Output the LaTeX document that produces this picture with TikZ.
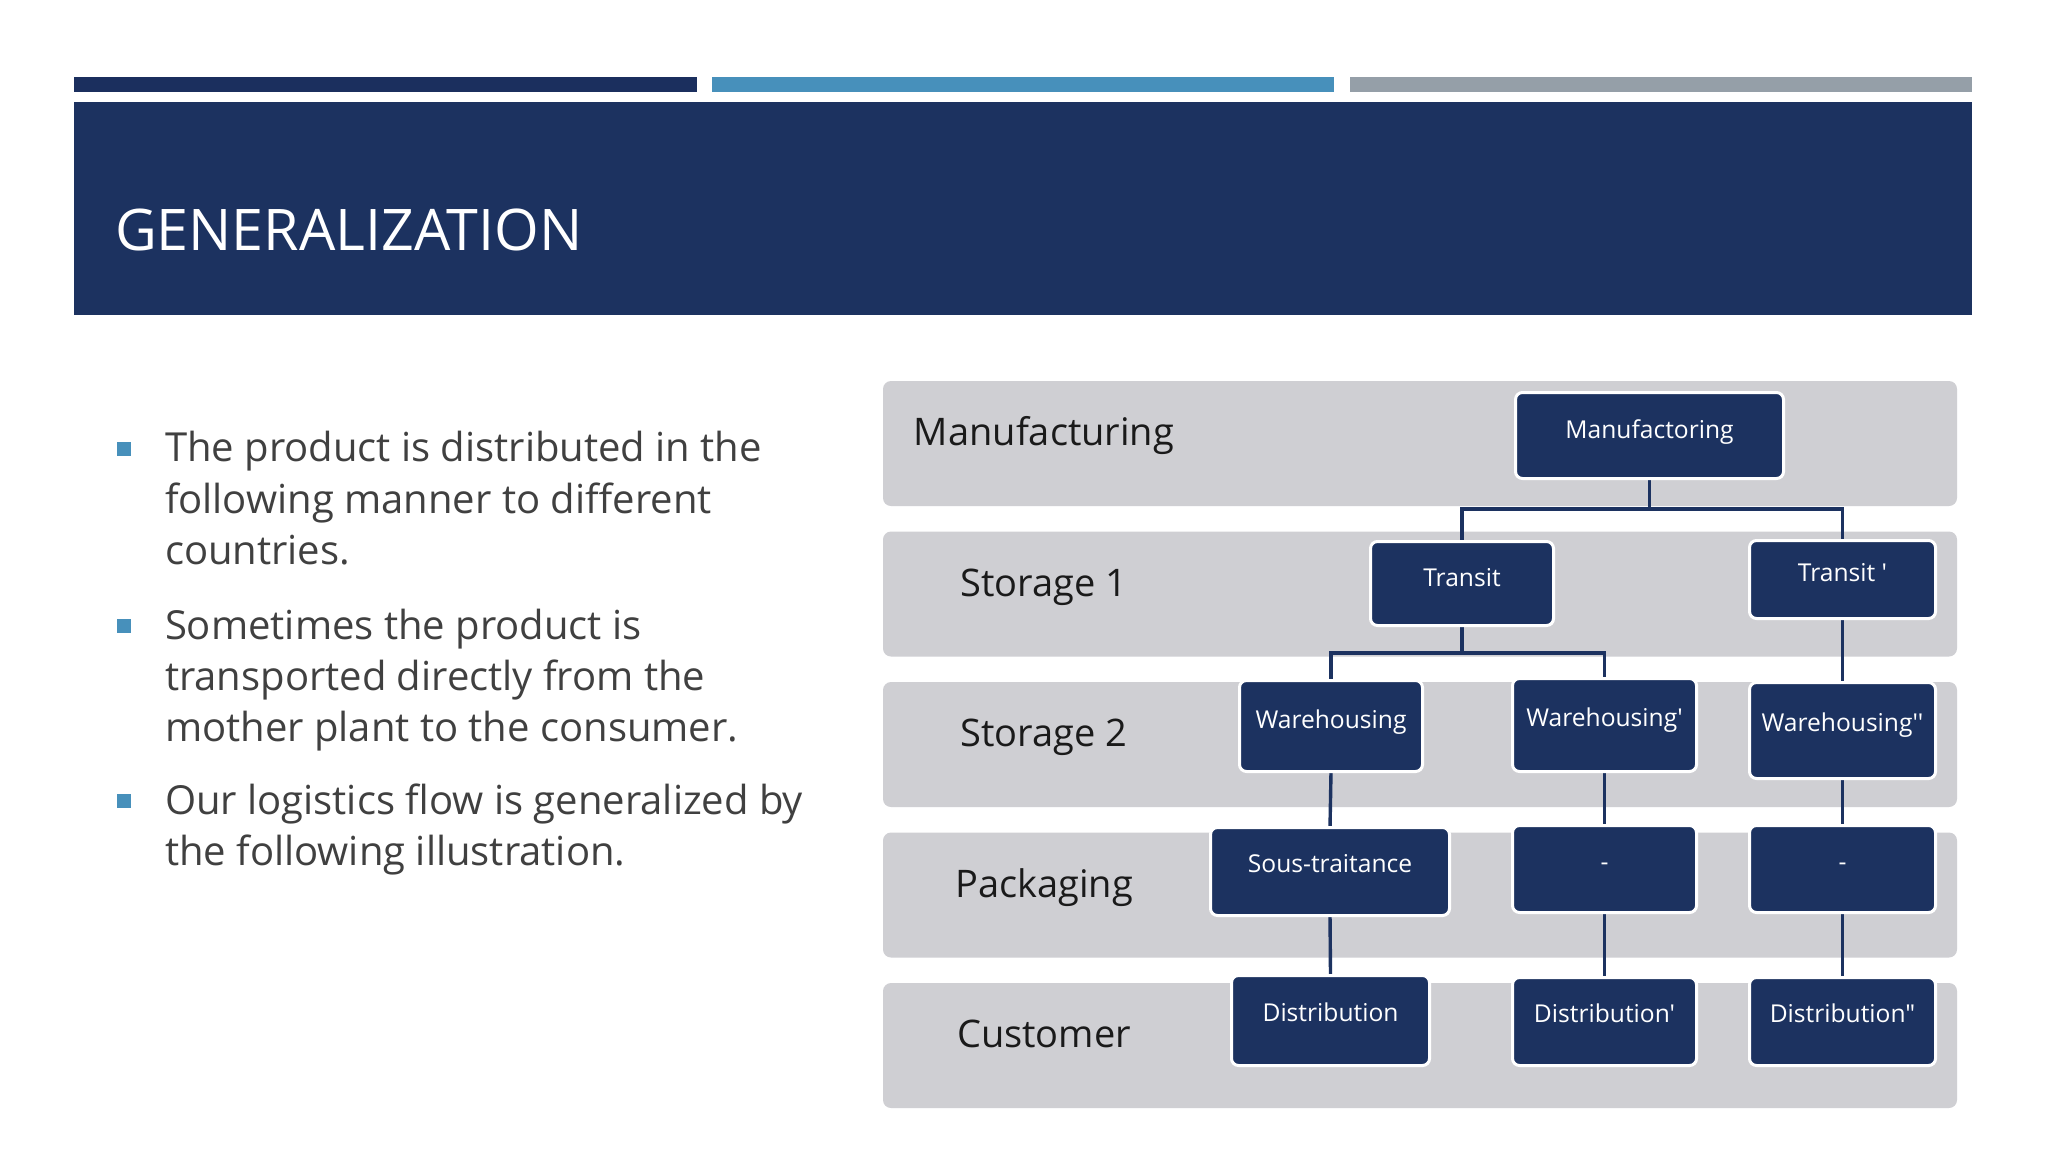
\documentclass[tikz,border=0pt]{standalone}
\usepackage{fontspec}
\setmainfont{Open Sans}[Ligatures=TeXOff]
\usetikzlibrary{calc}
\definecolor{navy}{HTML}{1C3260}
\definecolor{navybar}{HTML}{1B2F5E}
\definecolor{barblue}{HTML}{4790BB}
\definecolor{bargrey}{HTML}{959FA8}
\definecolor{bandgrey}{HTML}{CFCFD3}
\definecolor{bodytext}{HTML}{404040}
\definecolor{labeltext}{HTML}{1A1A1A}
\pgfdeclarelayer{back}
\pgfdeclarelayer{mid}
\pgfsetlayers{back,mid,main}
\tikzset{
  lane/.style={fill=bandgrey, draw=none, rounded corners=4pt, inner sep=0pt, outer sep=0pt},
  stagebox/.style={fill=navy, draw=white, line width=1.5pt, rounded corners=3.5pt, inner sep=0pt, outer sep=0pt},
  stagetext/.style={text=white, font=\fontsize{12.3}{15}\selectfont, anchor=base, inner sep=0pt, outer sep=0pt},
  lanetext/.style={text=labeltext, font=\fontsize{19}{23}\selectfont, anchor=base, inner sep=0pt, outer sep=0pt},
  bodyline/.style={text=bodytext, font=\fontsize{20}{25}\selectfont, anchor=base west, inner sep=0pt, outer sep=0pt},
  bulletsq/.style={fill=barblue, draw=none, minimum size=7pt, inner sep=0pt, outer sep=0pt},
  link/.style={draw=navy, line width=1.7pt},
  titletext/.style={text=white, font=\fontsize{28.7}{34}\selectfont, anchor=base west, inner sep=0pt, outer sep=0pt},
}
% name, x1, y1, x2, y2, text baseline y, text
\newcommand{\mkstage}[7]{%
  \node[stagebox, minimum width={(#4-#2)*0.5pt-1.5pt}, minimum height={(#5-#3)*0.5pt-1.5pt}] (#1) at ({(#2+#4)/2},{(#3+#5)/2}) {};
  \node[stagetext] (#1-t) at ({(#2+#4)/2},#6) {#7};}
% name, top y, label
\newcommand{\mklane}[3]{%
  \begin{pgfonlayer}{back}
  \node[lane, minimum width={(1957-883)*0.5pt}, minimum height={125*0.5pt}] (#1) at ({(883+1957)/2},{#2+62.5}) {};
  \end{pgfonlayer}
  \node[lanetext] (#1-t) at (1044,{#2+64.5}) {#3};}
\begin{document}
\begin{tikzpicture}[x=0.5pt,y=-0.5pt]
\useasboundingbox (0,0) rectangle (2048,1152);
\begin{pgfonlayer}{back}
\fill[white] (0,0) rectangle (2048,1152);
\end{pgfonlayer}

% header bars
\fill[navybar] (74,77) rectangle (697,92);
\fill[barblue] (712,77) rectangle (1334,92);
\fill[bargrey] (1350,77) rectangle (1972,92);
\fill[navy] (74,102) rectangle (1972,315);
\node[titletext] (title) at (115,250) {GENERALIZATION};

% bullets and text
\node[bulletsq] (bu1) at (124,448.5) {};
\node[bodyline] (p1a) at (165,461.7) {The product is distributed in the};
\node[bodyline] (p1b) at (165,513) {following manner to different};
\node[bodyline] (p1c) at (165,564) {countries.};
\node[bulletsq] (bu2) at (124,625.6) {};
\node[bodyline] (p2a) at (165,639) {Sometimes the product is};
\node[bodyline] (p2b) at (165,690) {transported directly from the};
\node[bodyline] (p2c) at (165,741) {mother plant to the consumer.};
\node[bulletsq] (bu3) at (124,801) {};
\node[bodyline] (p3a) at (165,814) {Our logistics flow is generalized by};
\node[bodyline] (p3b) at (165,865) {the following illustration.};

% lanes
\mklane{l1}{381}{Manufacturing}
\mklane{l2}{531.5}{Storage 1}
\mklane{l3}{682}{Storage 2}
\mklane{l4}{832.5}{Packaging}
\mklane{l5}{983}{Customer}

% stage boxes
\mkstage{mf}{1514}{391}{1785}{480}{438}{Manufactoring}
\mkstage{tr}{1369}{540}{1555}{627}{586}{Transit}
\mkstage{trb}{1748}{539}{1937}{620}{581}{Transit '}
\mkstage{wa}{1238}{679}{1424}{773}{728}{Warehousing}
\mkstage{wb}{1511}{677}{1698}{773}{726.7}{Warehousing'}
\mkstage{wc}{1748}{681}{1937}{780}{731.7}{Warehousing''}
\mkstage{pa}{1209}{826}{1451}{917}{872}{Sous-traitance}
\mkstage{pb}{1511}{824}{1698}{914}{870}{-}
\mkstage{pc}{1748}{824}{1937}{914}{870}{-}
\mkstage{da}{1230}{974}{1431}{1067}{1021.7}{Distribution}
\mkstage{db}{1511}{976}{1698}{1067}{1022.7}{Distribution'}
\mkstage{dc}{1748}{976}{1937}{1067}{1022.7}{Distribution"}

% connectors
\coordinate (j1) at (0,509);
\coordinate (j2) at (0,653);
\begin{pgfonlayer}{mid}
\draw[link] (mf.south) -- (mf.south |- j1) -| (tr.north);
\draw[link] (mf.south |- j1) -| (trb.north);
\draw[link] (tr.south) -- (tr.south |- j2) -| (wa.north);
\draw[link] (tr.south |- j2) -| (wb.north);
\draw[link] (trb.south) -- (wc.north);
\draw[link] (wa.south) -- (pa.north);
\draw[link] (wb.south) -- (pb.north);
\draw[link] (wc.south) -- (pc.north);
\draw[link] (pa.south) -- (da.north);
\draw[link] (pb.south) -- (db.north);
\draw[link] (pc.south) -- (dc.north);
\end{pgfonlayer}
\end{tikzpicture}
\end{document}
